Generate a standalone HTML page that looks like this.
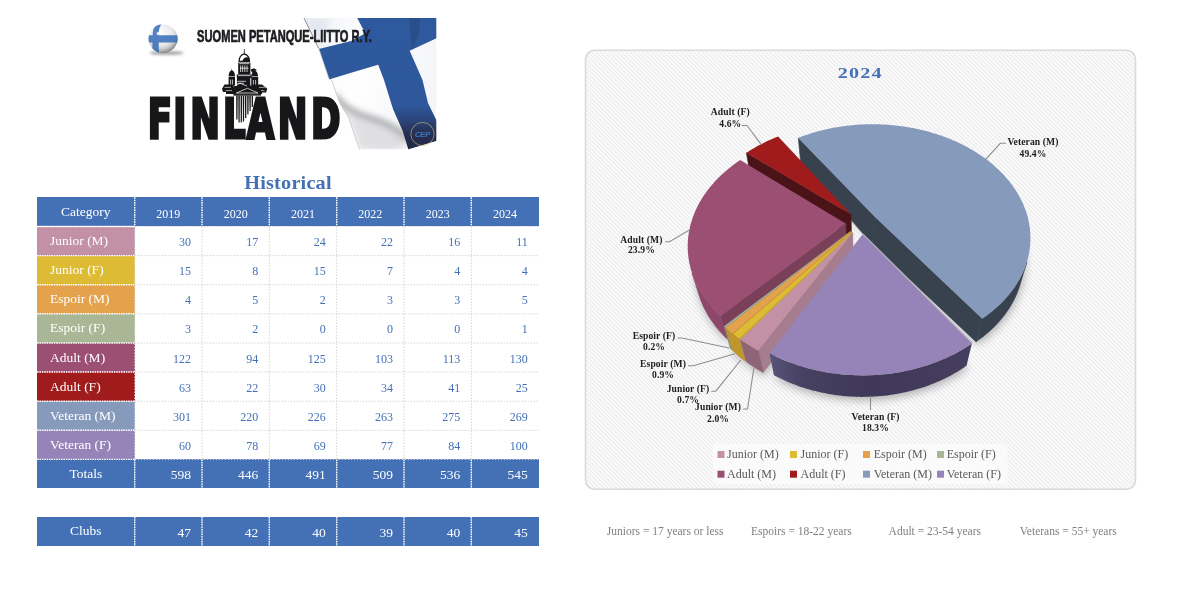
<!DOCTYPE html>
<html><head><meta charset="utf-8"><title>Finland - Historical</title>
<style>
html,body{margin:0;padding:0;background:#fff;}
body{width:1200px;height:600px;position:relative;overflow:hidden;font-family:"Liberation Serif",serif;}
.c{position:absolute;box-sizing:border-box;display:flex;align-items:center;font-size:12.5px;color:#4470B6;}
.c.h{background:#4470B6;color:#fff;justify-content:center;font-size:13.5px;}
.c.cat{color:#fff;padding-left:13px;font-size:13.5px;}
.c.n{justify-content:flex-end;padding-right:11px;font-size:12px;padding-top:3px;}
.c.h.tn{justify-content:flex-end;padding-right:11px;font-size:13.5px;padding-top:3px;}
.c.h.hy{font-size:12px;padding-top:5px;}
#title{position:absolute;left:188px;top:170px;width:200px;text-align:center;font-weight:bold;font-size:19.3px;letter-spacing:0.2px;color:#4470B6;line-height:26px;transform:scaleX(1.05);}
svg{position:absolute;left:0;top:0;}
.gw{stroke:#fff;stroke-width:1.4;stroke-dasharray:1.6 0.8;}
.gg{stroke:#d4d4d4;stroke-width:1;stroke-dasharray:1.5 1.5;}
.dl{font-family:"Liberation Serif",serif;font-weight:bold;font-size:9.6px;fill:#202020;text-anchor:middle;letter-spacing:0.1px;}
.ld{fill:none;stroke:#8e8e8e;stroke-width:1.1;}
.lg{font-family:"Liberation Serif",serif;font-size:12px;fill:#5a5a5a;}
.ct{font-family:"Liberation Serif",serif;font-weight:bold;font-size:14.4px;fill:#4470B6;text-anchor:middle;letter-spacing:0.8px;}
.fn{position:absolute;top:523px;font-size:11.5px;color:#7f7f7f;white-space:nowrap;line-height:16px;}
</style></head><body>
<div id="title">Historical</div>
<div class="c h" style="left:37.0px;top:197.3px;width:97.7px;height:29.2px;"><span>Category</span></div>
<div class="c h hy" style="left:134.7px;top:197.3px;width:67.3px;height:29.2px;"><span>2019</span></div>
<div class="c h hy" style="left:202.0px;top:197.3px;width:67.3px;height:29.2px;"><span>2020</span></div>
<div class="c h hy" style="left:269.3px;top:197.3px;width:67.4px;height:29.2px;"><span>2021</span></div>
<div class="c h hy" style="left:336.7px;top:197.3px;width:67.3px;height:29.2px;"><span>2022</span></div>
<div class="c h hy" style="left:404.0px;top:197.3px;width:67.3px;height:29.2px;"><span>2023</span></div>
<div class="c h hy" style="left:471.3px;top:197.3px;width:67.4px;height:29.2px;"><span>2024</span></div>
<div class="c cat" style="left:37.0px;top:226.5px;width:97.7px;height:29.1px;background:#C391A6;"><span>Junior (M)</span></div>
<div class="c n" style="left:134.7px;top:226.5px;width:67.3px;height:29.1px;"><span>30</span></div>
<div class="c n" style="left:202.0px;top:226.5px;width:67.3px;height:29.1px;"><span>17</span></div>
<div class="c n" style="left:269.3px;top:226.5px;width:67.4px;height:29.1px;"><span>24</span></div>
<div class="c n" style="left:336.7px;top:226.5px;width:67.3px;height:29.1px;"><span>22</span></div>
<div class="c n" style="left:404.0px;top:226.5px;width:67.3px;height:29.1px;"><span>16</span></div>
<div class="c n" style="left:471.3px;top:226.5px;width:67.4px;height:29.1px;"><span>11</span></div>
<div class="c cat" style="left:37.0px;top:255.6px;width:97.7px;height:29.1px;background:#DDBB35;"><span>Junior (F)</span></div>
<div class="c n" style="left:134.7px;top:255.6px;width:67.3px;height:29.1px;"><span>15</span></div>
<div class="c n" style="left:202.0px;top:255.6px;width:67.3px;height:29.1px;"><span>8</span></div>
<div class="c n" style="left:269.3px;top:255.6px;width:67.4px;height:29.1px;"><span>15</span></div>
<div class="c n" style="left:336.7px;top:255.6px;width:67.3px;height:29.1px;"><span>7</span></div>
<div class="c n" style="left:404.0px;top:255.6px;width:67.3px;height:29.1px;"><span>4</span></div>
<div class="c n" style="left:471.3px;top:255.6px;width:67.4px;height:29.1px;"><span>4</span></div>
<div class="c cat" style="left:37.0px;top:284.7px;width:97.7px;height:29.1px;background:#E4A24C;"><span>Espoir (M)</span></div>
<div class="c n" style="left:134.7px;top:284.7px;width:67.3px;height:29.1px;"><span>4</span></div>
<div class="c n" style="left:202.0px;top:284.7px;width:67.3px;height:29.1px;"><span>5</span></div>
<div class="c n" style="left:269.3px;top:284.7px;width:67.4px;height:29.1px;"><span>2</span></div>
<div class="c n" style="left:336.7px;top:284.7px;width:67.3px;height:29.1px;"><span>3</span></div>
<div class="c n" style="left:404.0px;top:284.7px;width:67.3px;height:29.1px;"><span>3</span></div>
<div class="c n" style="left:471.3px;top:284.7px;width:67.4px;height:29.1px;"><span>5</span></div>
<div class="c cat" style="left:37.0px;top:313.8px;width:97.7px;height:29.2px;background:#A9B797;"><span>Espoir (F)</span></div>
<div class="c n" style="left:134.7px;top:313.8px;width:67.3px;height:29.2px;"><span>3</span></div>
<div class="c n" style="left:202.0px;top:313.8px;width:67.3px;height:29.2px;"><span>2</span></div>
<div class="c n" style="left:269.3px;top:313.8px;width:67.4px;height:29.2px;"><span>0</span></div>
<div class="c n" style="left:336.7px;top:313.8px;width:67.3px;height:29.2px;"><span>0</span></div>
<div class="c n" style="left:404.0px;top:313.8px;width:67.3px;height:29.2px;"><span>0</span></div>
<div class="c n" style="left:471.3px;top:313.8px;width:67.4px;height:29.2px;"><span>1</span></div>
<div class="c cat" style="left:37.0px;top:343.0px;width:97.7px;height:29.0px;background:#9B4F73;"><span>Adult (M)</span></div>
<div class="c n" style="left:134.7px;top:343.0px;width:67.3px;height:29.0px;"><span>122</span></div>
<div class="c n" style="left:202.0px;top:343.0px;width:67.3px;height:29.0px;"><span>94</span></div>
<div class="c n" style="left:269.3px;top:343.0px;width:67.4px;height:29.0px;"><span>125</span></div>
<div class="c n" style="left:336.7px;top:343.0px;width:67.3px;height:29.0px;"><span>103</span></div>
<div class="c n" style="left:404.0px;top:343.0px;width:67.3px;height:29.0px;"><span>113</span></div>
<div class="c n" style="left:471.3px;top:343.0px;width:67.4px;height:29.0px;"><span>130</span></div>
<div class="c cat" style="left:37.0px;top:372.0px;width:97.7px;height:29.2px;background:#A01C1C;"><span>Adult (F)</span></div>
<div class="c n" style="left:134.7px;top:372.0px;width:67.3px;height:29.2px;"><span>63</span></div>
<div class="c n" style="left:202.0px;top:372.0px;width:67.3px;height:29.2px;"><span>22</span></div>
<div class="c n" style="left:269.3px;top:372.0px;width:67.4px;height:29.2px;"><span>30</span></div>
<div class="c n" style="left:336.7px;top:372.0px;width:67.3px;height:29.2px;"><span>34</span></div>
<div class="c n" style="left:404.0px;top:372.0px;width:67.3px;height:29.2px;"><span>41</span></div>
<div class="c n" style="left:471.3px;top:372.0px;width:67.4px;height:29.2px;"><span>25</span></div>
<div class="c cat" style="left:37.0px;top:401.2px;width:97.7px;height:29.1px;background:#869BBC;"><span>Veteran (M)</span></div>
<div class="c n" style="left:134.7px;top:401.2px;width:67.3px;height:29.1px;"><span>301</span></div>
<div class="c n" style="left:202.0px;top:401.2px;width:67.3px;height:29.1px;"><span>220</span></div>
<div class="c n" style="left:269.3px;top:401.2px;width:67.4px;height:29.1px;"><span>226</span></div>
<div class="c n" style="left:336.7px;top:401.2px;width:67.3px;height:29.1px;"><span>263</span></div>
<div class="c n" style="left:404.0px;top:401.2px;width:67.3px;height:29.1px;"><span>275</span></div>
<div class="c n" style="left:471.3px;top:401.2px;width:67.4px;height:29.1px;"><span>269</span></div>
<div class="c cat" style="left:37.0px;top:430.3px;width:97.7px;height:29.1px;background:#9683B7;"><span>Veteran (F)</span></div>
<div class="c n" style="left:134.7px;top:430.3px;width:67.3px;height:29.1px;"><span>60</span></div>
<div class="c n" style="left:202.0px;top:430.3px;width:67.3px;height:29.1px;"><span>78</span></div>
<div class="c n" style="left:269.3px;top:430.3px;width:67.4px;height:29.1px;"><span>69</span></div>
<div class="c n" style="left:336.7px;top:430.3px;width:67.3px;height:29.1px;"><span>77</span></div>
<div class="c n" style="left:404.0px;top:430.3px;width:67.3px;height:29.1px;"><span>84</span></div>
<div class="c n" style="left:471.3px;top:430.3px;width:67.4px;height:29.1px;"><span>100</span></div>
<div class="c h" style="left:37.0px;top:459.4px;width:97.7px;height:29.1px;"><span>Totals</span></div>
<div class="c h tn" style="left:134.7px;top:459.4px;width:67.3px;height:29.1px;"><span>598</span></div>
<div class="c h tn" style="left:202.0px;top:459.4px;width:67.3px;height:29.1px;"><span>446</span></div>
<div class="c h tn" style="left:269.3px;top:459.4px;width:67.4px;height:29.1px;"><span>491</span></div>
<div class="c h tn" style="left:336.7px;top:459.4px;width:67.3px;height:29.1px;"><span>509</span></div>
<div class="c h tn" style="left:404.0px;top:459.4px;width:67.3px;height:29.1px;"><span>536</span></div>
<div class="c h tn" style="left:471.3px;top:459.4px;width:67.4px;height:29.1px;"><span>545</span></div>
<div class="c h" style="left:37.0px;top:516.8px;width:97.7px;height:29.2px;"><span>Clubs</span></div>
<div class="c h tn" style="left:134.7px;top:516.8px;width:67.3px;height:29.2px;"><span>47</span></div>
<div class="c h tn" style="left:202.0px;top:516.8px;width:67.3px;height:29.2px;"><span>42</span></div>
<div class="c h tn" style="left:269.3px;top:516.8px;width:67.4px;height:29.2px;"><span>40</span></div>
<div class="c h tn" style="left:336.7px;top:516.8px;width:67.3px;height:29.2px;"><span>39</span></div>
<div class="c h tn" style="left:404.0px;top:516.8px;width:67.3px;height:29.2px;"><span>40</span></div>
<div class="c h tn" style="left:471.3px;top:516.8px;width:67.4px;height:29.2px;"><span>45</span></div>
<svg width="1200" height="600" viewBox="0 0 1200 600">
<defs>
<pattern id="hatch" width="3" height="3" patternUnits="userSpaceOnUse" patternTransform="rotate(-45)">
<rect width="3" height="3" fill="#ffffff"/><rect width="1.5" height="3" fill="#ebebee"/>
</pattern>
<filter id="blur" x="-20%" y="-20%" width="140%" height="140%"><feGaussianBlur stdDeviation="5"/></filter>
</defs>
<line x1="134.7" y1="197.3" x2="134.7" y2="226.5" class="gw"/>
<line x1="134.7" y1="226.5" x2="134.7" y2="459.4" class="gg"/>
<line x1="134.7" y1="459.4" x2="134.7" y2="488.5" class="gw"/>
<line x1="134.7" y1="516.8" x2="134.7" y2="546.0" class="gw"/>
<line x1="202.0" y1="197.3" x2="202.0" y2="226.5" class="gw"/>
<line x1="202.0" y1="226.5" x2="202.0" y2="459.4" class="gg"/>
<line x1="202.0" y1="459.4" x2="202.0" y2="488.5" class="gw"/>
<line x1="202.0" y1="516.8" x2="202.0" y2="546.0" class="gw"/>
<line x1="269.3" y1="197.3" x2="269.3" y2="226.5" class="gw"/>
<line x1="269.3" y1="226.5" x2="269.3" y2="459.4" class="gg"/>
<line x1="269.3" y1="459.4" x2="269.3" y2="488.5" class="gw"/>
<line x1="269.3" y1="516.8" x2="269.3" y2="546.0" class="gw"/>
<line x1="336.7" y1="197.3" x2="336.7" y2="226.5" class="gw"/>
<line x1="336.7" y1="226.5" x2="336.7" y2="459.4" class="gg"/>
<line x1="336.7" y1="459.4" x2="336.7" y2="488.5" class="gw"/>
<line x1="336.7" y1="516.8" x2="336.7" y2="546.0" class="gw"/>
<line x1="404.0" y1="197.3" x2="404.0" y2="226.5" class="gw"/>
<line x1="404.0" y1="226.5" x2="404.0" y2="459.4" class="gg"/>
<line x1="404.0" y1="459.4" x2="404.0" y2="488.5" class="gw"/>
<line x1="404.0" y1="516.8" x2="404.0" y2="546.0" class="gw"/>
<line x1="471.3" y1="197.3" x2="471.3" y2="226.5" class="gw"/>
<line x1="471.3" y1="226.5" x2="471.3" y2="459.4" class="gg"/>
<line x1="471.3" y1="459.4" x2="471.3" y2="488.5" class="gw"/>
<line x1="471.3" y1="516.8" x2="471.3" y2="546.0" class="gw"/>
<line x1="37.0" y1="226.5" x2="134.7" y2="226.5" class="gw"/>
<line x1="134.7" y1="226.5" x2="538.7" y2="226.5" class="gg"/>
<line x1="37.0" y1="255.6" x2="134.7" y2="255.6" class="gw"/>
<line x1="134.7" y1="255.6" x2="538.7" y2="255.6" class="gg"/>
<line x1="37.0" y1="284.7" x2="134.7" y2="284.7" class="gw"/>
<line x1="134.7" y1="284.7" x2="538.7" y2="284.7" class="gg"/>
<line x1="37.0" y1="313.8" x2="134.7" y2="313.8" class="gw"/>
<line x1="134.7" y1="313.8" x2="538.7" y2="313.8" class="gg"/>
<line x1="37.0" y1="343.0" x2="134.7" y2="343.0" class="gw"/>
<line x1="134.7" y1="343.0" x2="538.7" y2="343.0" class="gg"/>
<line x1="37.0" y1="372.0" x2="134.7" y2="372.0" class="gw"/>
<line x1="134.7" y1="372.0" x2="538.7" y2="372.0" class="gg"/>
<line x1="37.0" y1="401.2" x2="134.7" y2="401.2" class="gw"/>
<line x1="134.7" y1="401.2" x2="538.7" y2="401.2" class="gg"/>
<line x1="37.0" y1="430.3" x2="134.7" y2="430.3" class="gw"/>
<line x1="134.7" y1="430.3" x2="538.7" y2="430.3" class="gg"/>
<line x1="37.0" y1="459.4" x2="134.7" y2="459.4" class="gw"/>
<line x1="134.7" y1="459.4" x2="538.7" y2="459.4" class="gg"/>
<rect x="585.5" y="50.2" width="550" height="439" rx="9" ry="9" fill="url(#hatch)" stroke="#dadada" stroke-width="1.6"/>
<text transform="translate(860.2,78) scale(1.4,1)" class="ct">2024</text>
<defs><linearGradient id="g_VF" gradientUnits="userSpaceOnUse" x1="770" y1="0" x2="970" y2="0"><stop offset="0" stop-color="#58537A"/><stop offset="0.17" stop-color="#464061"/><stop offset="0.5" stop-color="#3F3858"/><stop offset="1" stop-color="#453E5E"/></linearGradient></defs><g fill="#000" opacity="0.30" filter="url(#blur)" transform="translate(1,3)"><path d="M873.9 240.1 L800.5 161.3 L806.5 158.9 L812.5 156.8 L818.7 154.9 L824.9 153.2 L831.3 151.8 L837.7 150.5 L844.2 149.5 L850.7 148.6 L857.2 148.0 L863.8 147.7 L870.4 147.5 L877.0 147.5 L883.6 147.8 L890.2 148.3 L896.8 149.0 L903.3 149.9 L909.8 151.1 L916.2 152.4 L922.6 154.0 L928.8 155.8 L935.0 157.8 L941.1 160.0 L947.1 162.5 L953.0 165.1 L958.7 168.0 L964.3 171.0 L969.7 174.3 L974.9 177.8 L980.0 181.4 L984.8 185.3 L989.5 189.4 L993.9 193.6 L998.0 198.1 L1001.9 202.7 L1005.6 207.4 L1008.9 212.4 L1011.9 217.5 L1014.6 222.7 L1017.0 228.1 L1019.1 233.6 L1020.7 239.2 L1022.0 245.0 L1022.9 250.8 L1023.4 256.7 L1023.5 262.6 L1023.1 268.6 L1022.3 274.7 L1021.1 280.7 L1019.4 286.7 L1017.2 292.7 L1014.5 298.6 L1011.4 304.5 L1007.8 310.3 L1003.8 315.9 L999.2 321.4 L994.2 326.7 L988.8 331.8 L982.9 336.7 L976.6 341.4Z"/><path d="M851.5 238.2 L750.5 176.3 L756.2 172.5 L762.2 169.0 L768.3 165.7 L774.6 162.7 L781.0 159.9Z"/><path d="M846.4 247.2 L726.9 338.6 L721.5 333.2 L716.7 327.5 L712.3 321.7 L708.4 315.8 L705.0 309.7 L702.1 303.5 L699.7 297.3 L697.8 291.0 L696.4 284.7 L695.5 278.5 L695.0 272.2 L695.0 266.0 L695.4 259.8 L696.3 253.7 L697.6 247.7 L699.2 241.9 L701.3 236.1 L703.7 230.5 L706.5 225.0 L709.6 219.7 L713.0 214.5 L716.7 209.5 L720.8 204.7 L725.0 200.1 L729.6 195.6 L734.4 191.4 L739.4 187.4 L744.6 183.6Z"/><path d="M851.0 254.8 L731.8 349.8 L730.5 348.7Z"/><path d="M851.4 255.1 L738.7 355.9 L732.2 350.2Z"/><path d="M852.0 255.5 L744.9 360.8 L739.3 356.4Z"/><path d="M853.1 256.1 L763.2 372.5 L754.3 367.3 L746.1 361.6Z"/><path d="M862.4 258.0 L966.6 365.6 L959.6 370.3 L952.2 374.6 L944.5 378.6 L936.4 382.3 L928.0 385.6 L919.3 388.5 L910.3 391.0 L901.2 393.1 L891.9 394.7 L882.4 395.9 L872.8 396.6 L863.3 396.9 L853.7 396.7 L844.1 396.0 L834.6 394.9 L825.3 393.3 L816.1 391.3 L807.1 388.9 L798.4 386.0 L789.9 382.8 L781.7 379.1 L773.9 375.2Z"/></g>
<g><path d="M874.4 216.5 L798.3 137.9 L800.5 161.3 L872.4 244.6Z" fill="#38424F" stroke="#38424F" stroke-width="0.6" stroke-linejoin="round"/>
<path d="M982.2 318.8 L874.4 216.5 L872.4 244.6 L976.3 342.0Z" fill="#38424F" stroke="#38424F" stroke-width="0.6" stroke-linejoin="round"/>
<path d="M1026.9 261.8 L1026.3 263.8 L1025.6 265.8 L1024.9 267.8 L1024.1 269.8 L1023.2 271.8 L1022.3 273.8 L1021.4 275.7 L1020.4 277.7 L1019.3 279.7 L1018.2 281.6 L1017.0 283.6 L1015.8 285.5 L1014.5 287.4 L1013.1 289.3 L1011.7 291.2 L1010.3 293.1 L1008.8 294.9 L1007.2 296.8 L1005.6 298.6 L1003.9 300.4 L1002.2 302.2 L1000.4 304.0 L998.6 305.7 L996.7 307.4 L994.8 309.1 L992.8 310.8 L990.8 312.4 L988.7 314.1 L986.6 315.7 L984.4 317.2 L982.2 318.8 L976.6 341.4 L978.7 339.8 L980.8 338.3 L982.9 336.7 L984.9 335.1 L986.8 333.5 L988.7 331.9 L990.6 330.2 L992.4 328.5 L994.2 326.8 L995.9 325.0 L997.5 323.3 L999.1 321.5 L1000.7 319.7 L1002.2 317.9 L1003.7 316.0 L1005.1 314.2 L1006.4 312.3 L1007.7 310.4 L1009.0 308.6 L1010.2 306.6 L1011.3 304.7 L1012.4 302.8 L1013.4 300.9 L1014.4 298.9 L1015.4 296.9 L1016.2 295.0 L1017.1 293.0 L1017.8 291.0 L1018.6 289.0 L1019.3 287.1 L1019.9 285.1Z" fill="#38424F" stroke="#38424F" stroke-width="0.6" stroke-linejoin="round"/>
<path d="M874.4 216.5 L798.3 137.9 L800.3 137.1 L802.4 136.3 L804.4 135.6 L806.5 134.9 L808.6 134.2 L810.7 133.5 L812.8 132.8 L814.9 132.2 L817.0 131.6 L819.2 131.0 L821.3 130.5 L823.5 129.9 L825.7 129.4 L827.8 129.0 L830.0 128.5 L832.2 128.0 L834.4 127.6 L836.6 127.2 L838.8 126.9 L841.0 126.5 L843.3 126.2 L845.5 125.9 L847.7 125.6 L850.0 125.4 L852.2 125.2 L854.5 125.0 L856.7 124.8 L859.0 124.6 L861.2 124.5 L863.5 124.4 L865.8 124.3 L868.0 124.3 L870.3 124.2 L872.6 124.2 L874.8 124.2 L877.1 124.3 L879.4 124.3 L881.6 124.4 L883.9 124.5 L886.1 124.6 L888.4 124.8 L890.7 125.0 L892.9 125.2 L895.2 125.4 L897.4 125.7 L899.7 125.9 L901.9 126.2 L904.2 126.5 L906.4 126.9 L908.6 127.3 L910.8 127.7 L913.1 128.1 L915.3 128.5 L917.5 129.0 L919.7 129.5 L921.8 130.0 L924.0 130.5 L926.2 131.1 L928.4 131.6 L930.5 132.3 L932.7 132.9 L934.8 133.5 L936.9 134.2 L939.0 134.9 L941.1 135.6 L943.2 136.4 L945.3 137.1 L947.4 137.9 L949.4 138.8 L951.5 139.6 L953.5 140.5 L955.5 141.3 L957.5 142.2 L959.5 143.2 L961.4 144.1 L963.4 145.1 L965.3 146.1 L967.2 147.1 L969.1 148.2 L971.0 149.2 L972.8 150.3 L974.7 151.4 L976.5 152.6 L978.3 153.7 L980.1 154.9 L981.8 156.1 L983.6 157.3 L985.3 158.6 L987.0 159.8 L988.6 161.1 L990.3 162.4 L991.9 163.8 L993.5 165.1 L995.1 166.5 L996.6 167.9 L998.1 169.3 L999.6 170.7 L1001.1 172.2 L1002.5 173.6 L1003.9 175.1 L1005.3 176.7 L1006.6 178.2 L1007.9 179.7 L1009.2 181.3 L1010.5 182.9 L1011.7 184.5 L1012.9 186.1 L1014.0 187.8 L1015.2 189.4 L1016.2 191.1 L1017.3 192.8 L1018.3 194.5 L1019.3 196.2 L1020.2 198.0 L1021.1 199.8 L1022.0 201.5 L1022.8 203.3 L1023.6 205.1 L1024.4 206.9 L1025.1 208.8 L1025.7 210.6 L1026.4 212.5 L1026.9 214.4 L1027.5 216.2 L1028.0 218.1 L1028.4 220.1 L1028.8 222.0 L1029.2 223.9 L1029.5 225.8 L1029.8 227.8 L1030.0 229.7 L1030.2 231.7 L1030.3 233.7 L1030.4 235.7 L1030.4 237.7 L1030.4 239.6 L1030.4 241.6 L1030.3 243.6 L1030.1 245.7 L1029.9 247.7 L1029.6 249.7 L1029.3 251.7 L1028.9 253.7 L1028.5 255.7 L1028.0 257.7 L1027.5 259.7 L1026.9 261.8 L1026.3 263.8 L1025.6 265.8 L1024.9 267.8 L1024.1 269.8 L1023.2 271.8 L1022.3 273.8 L1021.4 275.7 L1020.4 277.7 L1019.3 279.7 L1018.2 281.6 L1017.0 283.6 L1015.8 285.5 L1014.5 287.4 L1013.1 289.3 L1011.7 291.2 L1010.3 293.1 L1008.8 294.9 L1007.2 296.8 L1005.6 298.6 L1003.9 300.4 L1002.2 302.2 L1000.4 304.0 L998.6 305.7 L996.7 307.4 L994.8 309.1 L992.8 310.8 L990.8 312.4 L988.7 314.1 L986.6 315.7 L984.4 317.2 L982.2 318.8Z" fill="#869BBC"/></g>
<g><path d="M851.1 214.6 L746.4 152.8 L750.5 176.3 L851.5 238.2Z" fill="#4A1317" stroke="#4A1317" stroke-width="0.6" stroke-linejoin="round"/>
<path d="M851.1 214.6 L746.4 152.8 L748.1 151.7 L749.9 150.6 L751.6 149.5 L753.4 148.4 L755.2 147.4 L757.0 146.3 L758.9 145.3 L760.7 144.4 L762.6 143.4 L764.5 142.5 L766.4 141.5 L768.3 140.6 L770.3 139.8 L772.2 138.9 L774.2 138.1 L776.2 137.3 L778.1 136.5Z" fill="#A01C1C"/></g>
<g><path d="M845.7 223.6 L720.4 316.0 L726.9 338.6 L846.4 247.2Z" fill="#7A4059" stroke="#7A4059" stroke-width="0.6" stroke-linejoin="round"/>
<path d="M720.4 316.0 L718.5 314.2 L716.7 312.4 L715.0 310.6 L713.3 308.7 L711.6 306.9 L710.0 305.0 L708.5 303.1 L707.0 301.2 L705.6 299.3 L704.2 297.3 L702.9 295.3 L701.6 293.4 L700.4 291.4 L699.3 289.4 L698.2 287.4 L697.1 285.4 L696.1 283.3 L695.2 281.3 L694.3 279.3 L693.5 277.2 L692.8 275.2 L692.1 273.1 L699.4 296.3 L700.1 298.3 L700.8 300.4 L701.7 302.4 L702.5 304.4 L703.4 306.4 L704.4 308.4 L705.4 310.4 L706.5 312.4 L707.6 314.4 L708.7 316.3 L710.0 318.3 L711.2 320.2 L712.6 322.1 L714.0 324.0 L715.4 325.9 L716.9 327.8 L718.4 329.7 L720.0 331.5 L721.7 333.3 L723.3 335.1 L725.1 336.9 L726.9 338.6Z" fill="#8D476A" stroke="#8D476A" stroke-width="0.6" stroke-linejoin="round"/>
<path d="M845.7 223.6 L720.4 316.0 L718.5 314.2 L716.7 312.4 L715.0 310.6 L713.3 308.7 L711.6 306.9 L710.0 305.0 L708.5 303.1 L707.0 301.2 L705.6 299.3 L704.2 297.3 L702.9 295.3 L701.6 293.4 L700.4 291.4 L699.3 289.4 L698.2 287.4 L697.1 285.4 L696.1 283.3 L695.2 281.3 L694.3 279.3 L693.5 277.2 L692.8 275.2 L692.1 273.1 L691.4 271.0 L690.8 269.0 L690.3 266.9 L689.8 264.8 L689.3 262.8 L688.9 260.7 L688.6 258.6 L688.3 256.6 L688.1 254.5 L687.9 252.5 L687.8 250.4 L687.7 248.4 L687.7 246.3 L687.7 244.3 L687.8 242.2 L687.9 240.2 L688.1 238.2 L688.3 236.2 L688.6 234.2 L688.9 232.2 L689.3 230.2 L689.7 228.2 L690.1 226.3 L690.6 224.3 L691.2 222.4 L691.8 220.5 L692.4 218.6 L693.0 216.7 L693.8 214.8 L694.5 212.9 L695.3 211.1 L696.1 209.2 L697.0 207.4 L697.9 205.6 L698.9 203.8 L699.8 202.0 L700.9 200.3 L701.9 198.5 L703.0 196.8 L704.1 195.1 L705.3 193.4 L706.5 191.7 L707.7 190.1 L709.0 188.4 L710.3 186.8 L711.6 185.2 L713.0 183.7 L714.3 182.1 L715.8 180.6 L717.2 179.0 L718.7 177.6 L720.2 176.1 L721.7 174.6 L723.3 173.2 L724.9 171.8 L726.5 170.4 L728.1 169.0 L729.8 167.7 L731.4 166.4 L733.1 165.0 L734.9 163.8 L736.6 162.5 L738.4 161.3 L740.2 160.1Z" fill="#9B4F73"/></g>
<g><path d="M850.5 231.3 L725.4 327.4 L731.8 349.8 L851.0 254.8Z" fill="#8f9c80" stroke="#8f9c80" stroke-width="0.6" stroke-linejoin="round"/>
<path d="M725.4 327.4 L724.8 326.8 L724.1 326.2 L730.5 348.7 L731.2 349.3 L731.8 349.8Z" fill="#7f8c70" stroke="#7f8c70" stroke-width="0.6" stroke-linejoin="round"/>
<path d="M850.5 231.3 L725.4 327.4 L724.8 326.8 L724.1 326.2Z" fill="#A9B797"/></g>
<g><path d="M850.9 231.6 L732.6 333.6 L738.7 355.9 L851.4 255.1Z" fill="#C98F3C" stroke="#C98F3C" stroke-width="0.6" stroke-linejoin="round"/>
<path d="M732.6 333.6 L730.9 332.1 L729.2 330.7 L727.5 329.2 L725.8 327.8 L732.2 350.2 L733.8 351.7 L735.4 353.1 L737.0 354.5 L738.7 355.9Z" fill="#BE962D" stroke="#BE962D" stroke-width="0.6" stroke-linejoin="round"/>
<path d="M850.9 231.6 L732.6 333.6 L730.9 332.1 L729.2 330.7 L727.5 329.2 L725.8 327.8Z" fill="#E4A24C"/></g>
<g><path d="M851.6 232.0 L739.1 338.6 L744.9 360.8 L852.0 255.5Z" fill="#C8A630" stroke="#C8A630" stroke-width="0.6" stroke-linejoin="round"/>
<path d="M739.1 338.6 L737.1 337.1 L735.2 335.6 L733.3 334.1 L739.3 356.4 L741.2 357.9 L743.0 359.4 L744.9 360.8Z" fill="#BE962D" stroke="#BE962D" stroke-width="0.6" stroke-linejoin="round"/>
<path d="M851.6 232.0 L739.1 338.6 L737.1 337.1 L735.2 335.6 L733.3 334.1Z" fill="#DDBB35"/></g>
<g><path d="M852.7 232.6 L758.2 350.5 L763.2 372.5 L853.1 256.1Z" fill="#A67D8E" stroke="#A67D8E" stroke-width="0.6" stroke-linejoin="round"/>
<path d="M758.2 350.5 L755.8 349.2 L753.5 347.9 L751.2 346.5 L748.9 345.1 L746.7 343.7 L744.5 342.3 L742.4 340.9 L740.3 339.4 L746.1 361.6 L748.1 363.1 L750.1 364.5 L752.2 365.9 L754.3 367.3 L756.5 368.6 L758.7 369.9 L760.9 371.2 L763.2 372.5Z" fill="#8E6577" stroke="#8E6577" stroke-width="0.6" stroke-linejoin="round"/>
<path d="M852.7 232.6 L758.2 350.5 L755.8 349.2 L753.5 347.9 L751.2 346.5 L748.9 345.1 L746.7 343.7 L744.5 342.3 L742.4 340.9 L740.3 339.4Z" fill="#C391A6"/></g>
<g><path d="M971.9 343.4 L969.5 345.0 L967.1 346.6 L964.7 348.1 L962.2 349.6 L959.7 351.1 L957.1 352.5 L954.5 353.9 L951.8 355.3 L949.1 356.6 L946.3 357.9 L943.6 359.1 L940.7 360.3 L937.9 361.4 L935.0 362.6 L932.1 363.6 L929.1 364.7 L926.1 365.7 L923.1 366.6 L920.0 367.5 L917.0 368.3 L913.9 369.1 L910.7 369.9 L907.6 370.6 L904.4 371.3 L901.2 371.9 L898.0 372.4 L894.8 373.0 L891.5 373.4 L888.2 373.9 L885.0 374.2 L881.7 374.5 L878.4 374.8 L875.1 375.0 L871.8 375.2 L868.5 375.3 L865.1 375.4 L861.8 375.4 L858.5 375.3 L855.2 375.2 L851.9 375.1 L848.6 374.9 L845.3 374.7 L842.0 374.4 L838.7 374.0 L835.4 373.6 L832.2 373.2 L828.9 372.7 L825.7 372.2 L822.5 371.6 L819.3 370.9 L816.2 370.3 L813.0 369.5 L809.9 368.7 L806.8 367.9 L803.7 367.0 L800.7 366.1 L797.7 365.2 L794.7 364.1 L791.8 363.1 L788.8 362.0 L786.0 360.9 L783.1 359.7 L780.3 358.5 L777.5 357.2 L774.8 355.9 L772.1 354.6 L769.5 353.2 L773.9 375.2 L776.5 376.5 L779.0 377.8 L781.6 379.1 L784.3 380.3 L786.9 381.5 L789.7 382.7 L792.4 383.8 L795.2 384.8 L798.0 385.9 L800.8 386.9 L803.7 387.8 L806.6 388.7 L809.5 389.6 L812.4 390.4 L815.4 391.1 L818.4 391.8 L821.4 392.5 L824.4 393.1 L827.5 393.7 L830.6 394.3 L833.6 394.7 L836.7 395.2 L839.8 395.5 L843.0 395.9 L846.1 396.2 L849.2 396.4 L852.4 396.6 L855.5 396.7 L858.7 396.8 L861.8 396.9 L865.0 396.8 L868.1 396.8 L871.3 396.7 L874.4 396.5 L877.6 396.3 L880.7 396.0 L883.8 395.7 L886.9 395.4 L890.0 395.0 L893.1 394.5 L896.2 394.0 L899.2 393.4 L902.3 392.8 L905.3 392.2 L908.3 391.5 L911.3 390.8 L914.2 390.0 L917.2 389.1 L920.1 388.3 L922.9 387.4 L925.8 386.4 L928.6 385.4 L931.4 384.3 L934.2 383.2 L936.9 382.1 L939.6 380.9 L942.2 379.7 L944.9 378.5 L947.4 377.2 L950.0 375.9 L952.5 374.5 L954.9 373.1 L957.4 371.7 L959.7 370.2 L962.1 368.7 L964.4 367.2 L966.6 365.6Z" fill="url(#g_VF)"/>
<path d="M862.8 234.2 L972.2 343.1" stroke="#b9b9be" stroke-width="1.6" fill="none"/>
<path d="M862.5 234.5 L971.9 343.4 L969.5 345.0 L967.1 346.6 L964.7 348.1 L962.2 349.6 L959.7 351.1 L957.1 352.5 L954.5 353.9 L951.8 355.3 L949.1 356.6 L946.3 357.9 L943.6 359.1 L940.7 360.3 L937.9 361.4 L935.0 362.6 L932.1 363.6 L929.1 364.7 L926.1 365.7 L923.1 366.6 L920.0 367.5 L917.0 368.3 L913.9 369.1 L910.7 369.9 L907.6 370.6 L904.4 371.3 L901.2 371.9 L898.0 372.4 L894.8 373.0 L891.5 373.4 L888.2 373.9 L885.0 374.2 L881.7 374.5 L878.4 374.8 L875.1 375.0 L871.8 375.2 L868.5 375.3 L865.1 375.4 L861.8 375.4 L858.5 375.3 L855.2 375.2 L851.9 375.1 L848.6 374.9 L845.3 374.7 L842.0 374.4 L838.7 374.0 L835.4 373.6 L832.2 373.2 L828.9 372.7 L825.7 372.2 L822.5 371.6 L819.3 370.9 L816.2 370.3 L813.0 369.5 L809.9 368.7 L806.8 367.9 L803.7 367.0 L800.7 366.1 L797.7 365.2 L794.7 364.1 L791.8 363.1 L788.8 362.0 L786.0 360.9 L783.1 359.7 L780.3 358.5 L777.5 357.2 L774.8 355.9 L772.1 354.6 L769.5 353.2Z" fill="#9683B7"/></g>
<polyline points="741.7,125.5 747.0,125.5 761.3,144.7" class="ld"/>
<text x="730.3" y="115.0" class="dl">Adult (F)</text><text x="730.3" y="127.0" class="dl">4.6%</text>
<polyline points="1006.0,143.3 1000.3,143.3 985.0,160.2" class="ld"/>
<text x="1033.0" y="144.9" class="dl">Veteran (M)</text><text x="1033.0" y="157.4" class="dl">49.4%</text>
<polyline points="665.0,241.7 669.5,241.7 689.0,230.3" class="ld"/>
<text x="641.4" y="242.5" class="dl">Adult (M)</text><text x="641.4" y="253.3" class="dl">23.9%</text>
<polyline points="677.5,338.0 682.0,338.0 729.2,348.0" class="ld"/>
<text x="654.0" y="338.7" class="dl">Espoir (F)</text><text x="654.0" y="349.5" class="dl">0.2%</text>
<polyline points="688.0,365.8 693.3,365.8 735.0,353.7" class="ld"/>
<text x="663.0" y="366.7" class="dl">Espoir (M)</text><text x="663.0" y="377.5" class="dl">0.9%</text>
<polyline points="711.3,391.2 715.8,391.2 740.8,360.0" class="ld"/>
<text x="688.0" y="391.7" class="dl">Junior (F)</text><text x="688.0" y="402.5" class="dl">0.7%</text>
<polyline points="743.0,409.0 747.5,409.0 754.0,367.5" class="ld"/>
<text x="718.0" y="410.0" class="dl">Junior (M)</text><text x="718.0" y="421.8" class="dl">2.0%</text>
<polyline points="870.5,395.8 870.5,410.0" class="ld"/>
<text x="875.5" y="420.0" class="dl">Veteran (F)</text><text x="875.5" y="431.3" class="dl">18.3%</text>
<rect x="713" y="444" width="294.5" height="40" fill="#fbfbfb" opacity="0.9"/>
<rect x="717.5" y="451.0" width="7" height="7" fill="#C391A6"/><text x="727.0" y="458.3" class="lg">Junior (M)</text>
<rect x="790.0" y="451.0" width="7" height="7" fill="#DDBB35"/><text x="800.5" y="458.3" class="lg">Junior (F)</text>
<rect x="863.0" y="451.0" width="7" height="7" fill="#E4A24C"/><text x="873.7" y="458.3" class="lg">Espoir (M)</text>
<rect x="937.0" y="451.0" width="7" height="7" fill="#A9B797"/><text x="946.7" y="458.3" class="lg">Espoir (F)</text>
<rect x="717.5" y="470.7" width="7" height="7" fill="#9B4F73"/><text x="727.0" y="478.0" class="lg">Adult (M)</text>
<rect x="790.0" y="470.7" width="7" height="7" fill="#A01C1C"/><text x="800.5" y="478.0" class="lg">Adult (F)</text>
<rect x="863.0" y="470.7" width="7" height="7" fill="#869BBC"/><text x="873.7" y="478.0" class="lg">Veteran (M)</text>
<rect x="937.0" y="470.7" width="7" height="7" fill="#9683B7"/><text x="946.7" y="478.0" class="lg">Veteran (F)</text>
<defs>
<radialGradient id="ballg" cx="0.42" cy="0.32" r="0.75"><stop offset="0" stop-color="#ffffff"/><stop offset="0.55" stop-color="#f1f1f1"/><stop offset="0.85" stop-color="#bdbdbd"/><stop offset="1" stop-color="#9a9a9a"/></radialGradient>
<radialGradient id="ballsh" cx="0.4" cy="0.3" r="0.8"><stop offset="0" stop-color="#000" stop-opacity="0"/><stop offset="0.7" stop-color="#000" stop-opacity="0.05"/><stop offset="1" stop-color="#000" stop-opacity="0.35"/></radialGradient>
<clipPath id="ballc"><circle cx="163.1" cy="38.75" r="14.6"/></clipPath>
<filter id="b1" x="-50%" y="-200%" width="200%" height="500%"><feGaussianBlur stdDeviation="1.6"/></filter>
<filter id="b2" x="-50%" y="-50%" width="200%" height="200%"><feGaussianBlur stdDeviation="3"/></filter>
<filter id="b05"><feGaussianBlur stdDeviation="0.5"/></filter>
<linearGradient id="flagblue" x1="0" y1="0" x2="0" y2="1"><stop offset="0" stop-color="#2F599E"/><stop offset="0.66" stop-color="#2E589B"/><stop offset="0.78" stop-color="#2B4478"/><stop offset="0.88" stop-color="#262E50"/><stop offset="1" stop-color="#222744"/></linearGradient>
<linearGradient id="flagwhite" x1="0" y1="0" x2="1" y2="0.3"><stop offset="0" stop-color="#eef1f6"/><stop offset="0.5" stop-color="#ffffff"/><stop offset="1" stop-color="#f4f5f8"/></linearGradient>
<clipPath id="flagc"><path d="M304 18 L436.3 18 L436.3 141 L408.5 149.3 L359.5 149.3 L354.8 136 L349 118.5 L339.7 103 L331.5 80 L329 79 L318.7 48.5 Z"/></clipPath>
</defs>
<ellipse cx="166.5" cy="53" rx="17" ry="1.6" fill="#555" opacity="0.65" filter="url(#b1)"/>
<g clip-path="url(#ballc)"><circle cx="163.1" cy="38.75" r="14.6" fill="url(#ballg)"/><path d="M148 35.2 L178 35.2 L178 42.6 L148 42.6Z" fill="#5283C6"/><path d="M152.6 54 Q152 42 153 36 Q151.8 30 155.5 25.5 Q158.5 23 161.8 23.2 Q158.8 28 158.6 32 Q158.6 44 159 54Z" fill="#5283C6"/><ellipse cx="158.3" cy="33.6" rx="1.8" ry="1.5" fill="#fff" opacity="0.85" filter="url(#b05)"/><circle cx="163.1" cy="38.75" r="14.6" fill="url(#ballsh)"/></g>
<g clip-path="url(#flagc)">
<rect x="300" y="15" width="140" height="140" fill="url(#flagwhite)"/>
<path d="M334 96 Q347 112 368 118 Q392 124 408 140" stroke="#77777c" stroke-width="7" fill="none" opacity="0.6" filter="url(#b2)"/>
<path d="M340 108 Q352 118 372 122 Q392 128 405 140 L400 150 L360 150 L350 122Z" fill="#c9c9cd" opacity="0.55" filter="url(#b2)"/>
<path d="M304 18 L330 18 L322 50 Z" fill="#dfe5ee" opacity="0.8" filter="url(#b2)"/>
<path d="M318.7 49 L351.3 41 L365.3 33.3 L357.2 18 L437 18 L437 38 L409.7 50.8 L422.5 80 L428 103 L437 121.5 L437 141 L408.5 150 L402.7 131 L393 109 L384 80 L378.2 64.8 L352 72.5 L329 79.5 Z" fill="url(#flagblue)"/>
<path d="M409 18 L420 18 L419 34 L412 50 Z" fill="#28406f" opacity="0.45" filter="url(#b05)"/>
<path d="M437 18 L437 150 L431 150 Q436 120 433 80 Q435 50 434 18Z" fill="#dfe3ea" opacity="0.0"/>
</g>
<path d="M304 18 L318.7 48.5" stroke="#444" stroke-width="0.6" fill="none"/><path d="M318.7 48.5 L329 79 L331.5 80 L339.7 103 L349 118.5 L354.8 136 L359.5 149.3" stroke="#c4c4c8" stroke-width="0.8" fill="none"/>
<text transform="translate(197.1,41.8) scale(0.686,1)" style="font-family:'Liberation Sans',sans-serif;font-weight:bold;font-size:16.2px;fill:#1c1c20" stroke="#1c1c20" stroke-width="0.7">SUOMEN PETANQUE-LIITTO R.Y.</text>
<circle cx="422.5" cy="134" r="11.6" fill="none" stroke="#c8c07e" stroke-width="0.7" opacity="0.9"/>
<text x="422.3" y="136.8" text-anchor="middle" style="font-family:'Liberation Sans',sans-serif;font-weight:bold;font-style:italic;font-size:8px;fill:#3f74bd;letter-spacing:-0.5px">CEP</text>
<text transform="translate(0,137.8) scale(0.72,1)" x="205.14 240.69 264.17 309.58 342.71 385.69 431.81" style="font-family:'DejaVu Sans Condensed','DejaVu Sans','Liberation Sans',sans-serif;font-weight:bold;font-size:54.8px;fill:#17171a" stroke="#17171a" stroke-width="3" stroke-linejoin="miter">FINLAND</text>
<path d="M243.9 49 L244.6 49 L244.7 53.5 L243.8 53.5Z" fill="#17171a"/>
<path d="M238.5 62 Q238.3 54.6 244.25 53.2 Q250.3 54.6 250.1 62 Z" fill="#17171a"/>
<path d="M239.8 60.8 Q240 55.8 243.9 54.8 Q246.6 55.1 248 57.6 Q244.2 56.2 242.4 60.8Z" fill="#fff"/>
<path d="M238.2 62.6 L250.4 62.6 L250.4 74.5 L238.2 74.5Z" fill="#17171a"/>
<path d="M239.3 63.7 L249.3 63.7 M240.6 65.5 L240.6 72 M242.6 65.5 L242.6 72 M244.8 65.5 L244.8 72 M247 65.5 L247 72 M240 68.2 L248.5 68.2" stroke="#fff" stroke-width="0.75" fill="none"/>
<path d="M228.6 76 Q228.8 71.3 231.6 70.2 L231.6 68.8 L232 68.8 L232 70.2 Q234.8 71.3 235 76 Z" fill="#17171a"/>
<path d="M228.6 76.6 L235 76.6 L235 86 L228.6 86Z" fill="#17171a"/>
<path d="M230.6 79.5 L230.6 84.5 M232.6 79.5 L232.6 84.5" stroke="#fff" stroke-width="0.7"/>
<path d="M251.6 76 Q251.8 71.6 254.6 70.6 Q257.8 71.6 258 76 Z" fill="#17171a"/>
<path d="M251.4 76.6 L258.2 76.6 L258.2 86 L251.4 86Z" fill="#17171a"/>
<path d="M253.4 80 L253.4 84.5 M255.6 80 L255.6 84.5" stroke="#fff" stroke-width="0.7"/>
<path d="M250.5 69.5 L254 68.2 L257 70 L254.5 71.2 L256.5 73.5 L252 72.5Z" fill="#17171a"/>
<path d="M236.8 74.5 L251.8 74.5 L251.8 87 L236.8 87Z" fill="#17171a"/>
<path d="M238 75.6 L250.6 75.6 M237.4 81.3 L246 81.3 M237.4 83.2 L244 83.2" stroke="#fff" stroke-width="0.7"/>
<path d="M235.3 77 L236.6 77 L236.6 85.5 L235.3 85.5Z M250.3 78 L251.2 78 L251.2 85.5 L250.3 85.5Z" fill="#fff"/>
<path d="M222 88.8 L224.5 84.6 L229 84.6 L229 86 L258 86 L258 84.6 L262 84.6 L267.3 88.8 L266 92.5 L262 92.5 L262 94 L226 94 L226 92 L223 92Z" fill="#17171a"/>
<path d="M224.5 87.4 L231 87.4 M259 87.4 L265 87.4 M225.5 90.6 L232 90.6 M261 90.6 L264.5 90.6" stroke="#fff" stroke-width="0.6"/>
<path d="M233.5 86.2 L240 83.3 L247 86" stroke="#fff" stroke-width="0.7" fill="none"/>
<path d="M232.8 94.4 L247.4 86.6 L261.5 94.4 Z" fill="#17171a"/>
<path d="M236.3 93 L247.4 88.3 L258 93 Z" fill="none" stroke="#fff" stroke-width="0.7"/>
<path d="M233.5 94.2 L261 94.2 L261 95.6 L233.5 95.6Z" fill="#17171a"/>
<path d="M236.2 95.6 L237.7 95.6 L237.5 119.5 L236.3 119.5Z" fill="#17171a"/>
<path d="M238.3 95.6 L239.8 95.6 L239.7 122.4 L238.5 122.4Z" fill="#17171a"/>
<path d="M240.6 95.6 L242.1 95.6 L241.9 122.6 L240.7 122.6Z" fill="#17171a"/>
<path d="M242.8 95.6 L244.2 95.6 L244.1 121.4 L242.9 121.4Z" fill="#17171a"/>
<path d="M244.9 95.6 L246.4 95.6 L246.3 118.0 L245.1 118.0Z" fill="#17171a"/>
<path d="M247.2 95.6 L248.7 95.6 L248.5 114.5 L247.3 114.5Z" fill="#17171a"/>
<path d="M249.3 95.6 L250.8 95.6 L250.7 111.0 L249.5 111.0Z" fill="#17171a"/>
<path d="M251.6 95.6 L253.1 95.6 L252.9 107.0 L251.7 107.0Z" fill="#17171a"/>
</svg>
<div class="fn" style="left:606.8px">Juniors = 17 years or less</div>
<div class="fn" style="left:751px">Espoirs = 18-22 years</div>
<div class="fn" style="left:888.6px">Adult = 23-54 years</div>
<div class="fn" style="left:1019.8px">Veterans = 55+ years</div>
</body></html>
